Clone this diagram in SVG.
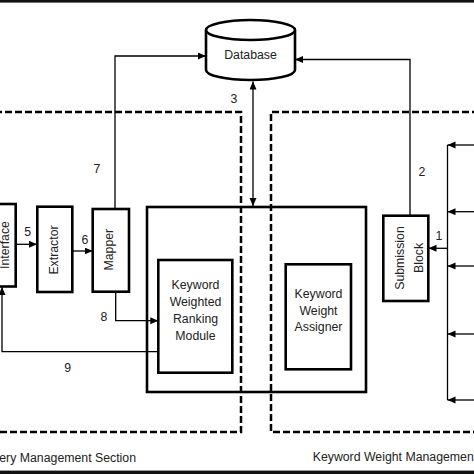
<svg xmlns="http://www.w3.org/2000/svg" width="474" height="474" viewBox="0 0 474 474">
<defs>
<marker id="ah" markerUnits="userSpaceOnUse" markerWidth="9" markerHeight="8" refX="8" refY="3.5" orient="auto-start-reverse">
<path d="M0,0 L8,3.5 L0,7 z" fill="#000"/>
</marker>
<style>
.box{fill:#fff;stroke:#000;stroke-width:2.6}
.dash{fill:none;stroke:#000;stroke-width:2.5;stroke-dasharray:7,3}
.ln{fill:none;stroke:#000;stroke-width:1.3}
.arr{fill:none;stroke:#000;stroke-width:1.3;marker-end:url(#ah)}
text{font-family:"Liberation Sans",Arial,sans-serif;font-size:12.3px;fill:#222}
.c{text-anchor:middle}
</style>
</defs>
<rect x="0" y="0" width="474" height="474" fill="#fff"/>
<rect x="0" y="0" width="474" height="2.6" fill="#111"/>
<rect x="0" y="470.6" width="474" height="3.4" fill="#111"/>

<g id="sections">
<path class="dash" d="M-5,112 H241 V432 H-5"/>
<path class="dash" d="M479,112 H271 V432 H479"/>
</g>

<g id="connectors">
<path class="arr" d="M115,209 V56 H206"/>
<path class="arr" d="M410,215.7 V59.5 H295"/>
<path class="ln" d="M253,81.5 V206" style="marker-start:url(#ah);marker-end:url(#ah)"/>
<path class="arr" d="M15.7,244.3 H37"/>
<path class="arr" d="M72.3,251 H92.7"/>
<path class="arr" d="M115.7,291.7 V320.7 H158.3"/>
<path class="arr" d="M158.3,351.7 H2 V287"/>
<path class="ln" d="M447.5,145 V400"/>
<path class="arr" d="M447.5,248.3 H428.5"/>
<path class="arr" d="M474,145 H447.5"/>
<path class="arr" d="M474,211.7 H447.5"/>
<path class="arr" d="M474,266 H447.5"/>
<path class="arr" d="M474,334 H447.5"/>
<path class="arr" d="M474,400 H447.5"/>
<text x="97" y="173" class="c">7</text>
<text x="422" y="175.5" class="c">2</text>
<text x="234" y="102.5" class="c">3</text>
<text x="27.7" y="236" class="c">5</text>
<text x="85" y="243.5" class="c">6</text>
<text x="104" y="321" class="c">8</text>
<text x="67.7" y="372" class="c">9</text>
<text x="439" y="239.5" class="c">1</text>
</g>

<g id="database">
<path d="M206,30 V70 A44.5,10 0 0 0 295,70 V30" fill="#fff" stroke="#000" stroke-width="2.6"/>
<ellipse cx="250.5" cy="30" rx="44.5" ry="10" fill="#fff" stroke="#000" stroke-width="2.6"/>
<text x="250.5" y="58.5" class="c">Database</text>
</g>

<g id="outer">
<rect class="box" x="147" y="207" width="219" height="185" fill="none" style="fill:none"/>
</g>

<g id="interface">
<rect class="box" x="-20" y="204" width="35.7" height="82.5"/>
<text class="c" transform="translate(8.5,245) rotate(-90)">Interface</text>
</g>

<g id="extractor">
<rect class="box" x="37.3" y="206.7" width="35" height="85.3"/>
<text class="c" transform="translate(58.3,250) rotate(-90)">Extractor</text>
</g>

<g id="mapper">
<rect class="box" x="92.7" y="209" width="36.3" height="82.7"/>
<text class="c" transform="translate(113,249.7) rotate(-90)">Mapper</text>
</g>

<g id="kwr">
<rect class="box" x="158.3" y="260" width="74" height="112.7"/>
<text x="195.5" y="288.5" class="c">Keyword</text>
<text x="195.5" y="306" class="c">Weighted</text>
<text x="195.5" y="322.5" class="c">Ranking</text>
<text x="195.5" y="340" class="c">Module</text>
</g>

<g id="kwa">
<rect class="box" x="285.7" y="264.3" width="65.3" height="105"/>
<text x="318.5" y="297.5" class="c">Keyword</text>
<text x="318.5" y="314.5" class="c">Weight</text>
<text x="318.5" y="331" class="c">Assigner</text>
</g>

<g id="submission">
<rect class="box" x="383.3" y="215.7" width="45" height="85.3"/>
<text class="c" transform="translate(404,258) rotate(-90)">Submission</text>
<text class="c" transform="translate(423,258) rotate(-90)">Block</text>
</g>

<g id="labels">
<text x="136" y="461.5" text-anchor="end">Query Management Section</text>
<text x="312.7" y="461" >Keyword Weight Management Section</text>
</g>
</svg>
